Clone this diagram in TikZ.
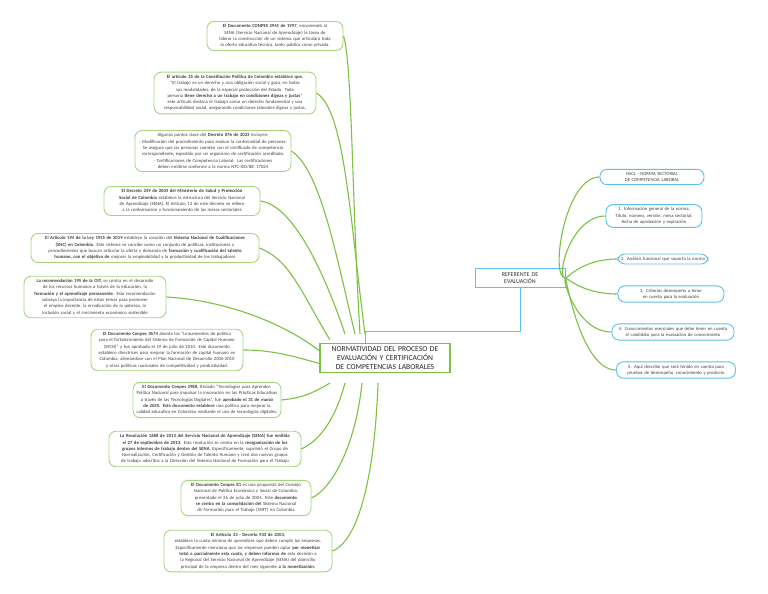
\documentclass[tikz,border=0pt]{standalone}
\usepackage{fontspec}
\setmainfont{Carlito}
\definecolor{gl}{HTML}{7CC242}
\definecolor{gb}{HTML}{A5D67E}
\definecolor{bl}{HTML}{5BC0EB}
\hyphenpenalty=10000
\exhyphenpenalty=10000
\begin{document}
\begin{tikzpicture}[x=1pt,y=-1pt,
 lbox/.style={draw=gb, line width=0.9pt, rounded corners=7pt, fill=white, align=center, font=\fontsize{4.7}{6.3}\selectfont, text=black!75, inner sep=3pt},
 rbox/.style={draw=bl, line width=0.9pt, rounded corners=7pt, fill=white, align=center, font=\fontsize{4.7}{6.3}\selectfont, text=black!75, inner sep=3pt},
 gline/.style={draw=gl, line width=1.1pt},
 bline/.style={draw=bl, line width=1pt}]
\useasboundingbox (0,0) rectangle (768,594);
\node[lbox,text width=130pt] (n1) at (275,36) {\textbf{El Documento CONPES 2945 de 1997,} encomendó al SENA (Servicio Nacional de Aprendizaje) la tarea de liderar la construcción de un sistema que articulara toda la oferta educativa técnica, tanto pública como privada.};
\node[lbox,text width=156pt] (n2) at (235,93) {\textbf{El artículo 25 de la Constitución Política de Colombia establece que,}\\ "El trabajo es un derecho y una obligación social y goza, en todas sus modalidades, de la especial protección del Estado. Toda persona \textbf{tiene derecho a un trabajo en condiciones dignas y justas}"\\ este artículo destaca el trabajo como un derecho fundamental y una responsabilidad social, asegurando condiciones laborales dignas y justas.};
\node[lbox,text width=150pt] (n3) at (213,151) {Algunos puntos clave del \textbf{Decreto 076 de 2023} incluyen:\\ - Modificación del procedimiento para evaluar la conformidad de personas: Se asegura que las personas cuenten con el certificado de competencia correspondiente, expedido por un organismo de certificación acreditado.\\ - Certificaciones de Competencia Laboral: Las certificaciones deben emitirse conforme a la norma NTC-ISO/IEC 17024};
\node[lbox,text width=150pt] (n4) at (182,201) {\textbf{El Decreto 249 de 2004 del Ministerio de Salud y Protección Social de Colombia} establece la estructura del Servicio Nacional de Aprendizaje (SENA). El Artículo 13 de este decreto se refiere a la conformación y funcionamiento de las mesas sectoriales};
\node[lbox,text width=222pt] (n5) at (145,248) {\textbf{El Artículo 194 de la Ley 1955 de 2019} establece la creación del \textbf{Sistema Nacional de Cualificaciones (SNC) en Colombia}. Este sistema se concibe como un conjunto de políticas, instituciones y procedimientos que buscan articular la oferta y demanda de \textbf{formación y cualificación del talento humano, con el objetivo de} mejorar la empleabilidad y la productividad de los trabajadores};
\node[lbox,text width=136pt] (n6) at (95,297) {\textbf{La recomendación 195 de la OIT,} se centra en el desarrollo de los recursos humanos a través de la educación, la \textbf{formación y el aprendizaje permanente}. Esta recomendación subraya la importancia de estos temas para promover el empleo decente, la erradicación de la pobreza, la inclusión social y el crecimiento económico sostenible};
\node[lbox,text width=146pt] (n7) at (167,350) {\textbf{El Documento Conpes 3674} aborda los "Lineamientos de política para el fortalecimiento del Sistema de Formación de Capital Humano (SFCH)" y fue aprobado el 19 de julio de 2010. Este documento establece directrices para mejorar la formación de capital humano en Colombia, alineándose con el Plan Nacional de Desarrollo 2006-2010 y otras políticas nacionales de competitividad y productividad.};
\node[lbox,text width=142pt] (n8) at (207,400) {\textbf{El Documento Conpes 3988,} titulado "Tecnologías para Aprender: Política Nacional para impulsar la innovación en las Prácticas Educativas a través de las Tecnologías Digitales", fue \textbf{aprobado el 31 de marzo de 2020. Este documento establece} una política para mejorar la calidad educativa en Colombia mediante el uso de tecnologías digitales.};
\node[lbox,text width=186pt] (n9) at (205,449) {\textbf{La Resolución 1688 de 2013 del Servicio Nacional de Aprendizaje (SENA) fue emitida el 27 de septiembre de 2013.} Esta resolución se centra en la \textbf{reorganización de los grupos internos de trabajo dentro del SENA}. Específicamente, suprimió el Grupo de Normalización, Certificación y Gestión de Talento Humano y creó dos nuevos grupos de trabajo adscritos a la Dirección del Sistema Nacional de Formación para el Trabajo};
\node[lbox,text width=124pt] (n10) at (246,498) {\textbf{El Documento Conpes 81} es una propuesta del Consejo Nacional de Política Económica y Social de Colombia, presentado el 26 de julio de 2004. Este \textbf{documento se centra en la consolidación del} Sistema Nacional de Formación para el Trabajo (SNFT) en Colombia};
\node[lbox,text width=162pt] (n11) at (248,551) {\textbf{El Artículo 33 - Decreto 933 de 2003,}\\ establece la cuota mínima de aprendices que deben cumplir las empresas. Específicamente menciona que las empresas pueden optar \textbf{por monetizar total o parcialmente esta cuota, y deben informar de} esta decisión a la Regional del Servicio Nacional de Aprendizaje (SENA) del domicilio principal de la empresa dentro del mes siguiente \textbf{a la monetización.}};
\node[draw=gl,line width=1.4pt,fill=white,align=center,text width=124pt,font=\fontsize{7.6}{9}\selectfont,text=black!85,inner sep=3pt] (c) at (385,358) {NORMATIVIDAD DEL PROCESO DE EVALUACIÓN Y CERTIFICACIÓN DE COMPETENCIAS LABORALES};
\node[draw=bl,line width=0.9pt,fill=white,align=center,text width=82pt,font=\fontsize{6}{7.5}\selectfont,text=black!80,inner sep=4pt] (ref) at (520,278) {REFERENTE DE\\ EVALUACIÓN};
\node[rbox,text width=98pt] (r1) at (652,177) {NSCL - NORMA SECTORIAL DE COMPETENCIA LABORAL};
\node[rbox,text width=90pt] (r2) at (654,216) {1. Información general de la norma, Título, número, versión, mesa sectorial, fecha de aprobación y expiración};
\node[rbox,text width=84pt] (r3) at (663,259) {2. Análisis funcional que soporta la norma};
\node[rbox,text width=100pt] (r4) at (671,294) {3. Criterios desempeño a tener en cuenta para la evaluación};
\node[rbox,text width=116pt] (r5) at (673,332) {4. Conocimientos esenciales que debe tener en cuenta el candidato para la evaluación de conocimiento};
\node[rbox,text width=113pt] (r6) at (676,370) {5. Aquí describe que será tenido en cuenta para pruebas de desempeño, conocimiento y producto};
\begin{scope}[gline]
\draw (360,334) .. controls (352,200) and (352,60) .. (n1.east);
\draw (365,334) .. controls (350,220) and (345,110) .. (n2.east);
\draw (355,334) .. controls (335,250) and (320,170) .. (n3.east);
\draw (345,334) .. controls (320,260) and (290,205) .. (n4.east);
\draw (330,340) .. controls (300,290) and (290,260) .. (n5.east);
\draw (321,352) .. controls (280,320) and (220,300) .. (n6.east);
\draw (321,364) .. controls (290,355) and (270,350) .. (n7.east);
\draw (330,383) .. controls (310,395) and (300,398) .. (n8.east);
\draw (345,383) .. controls (335,420) and (320,440) .. (n9.east);
\draw (362,383) .. controls (355,450) and (330,490) .. (n10.east);
\draw (378,383) .. controls (375,470) and (360,540) .. (n11.east);
\end{scope}
\draw[bline] ([xshift=-20pt]c.north) -- ++(0,-11) -| (ref.south);
\foreach \r in {r1,r2,r3,r4,r5,r6}{
 \draw[gline] (ref.east) .. controls ([xshift=-50pt]ref.east -| \r.west) and ([xshift=-35pt]\r.west) .. (\r.west);
}
\end{tikzpicture}
\end{document}
